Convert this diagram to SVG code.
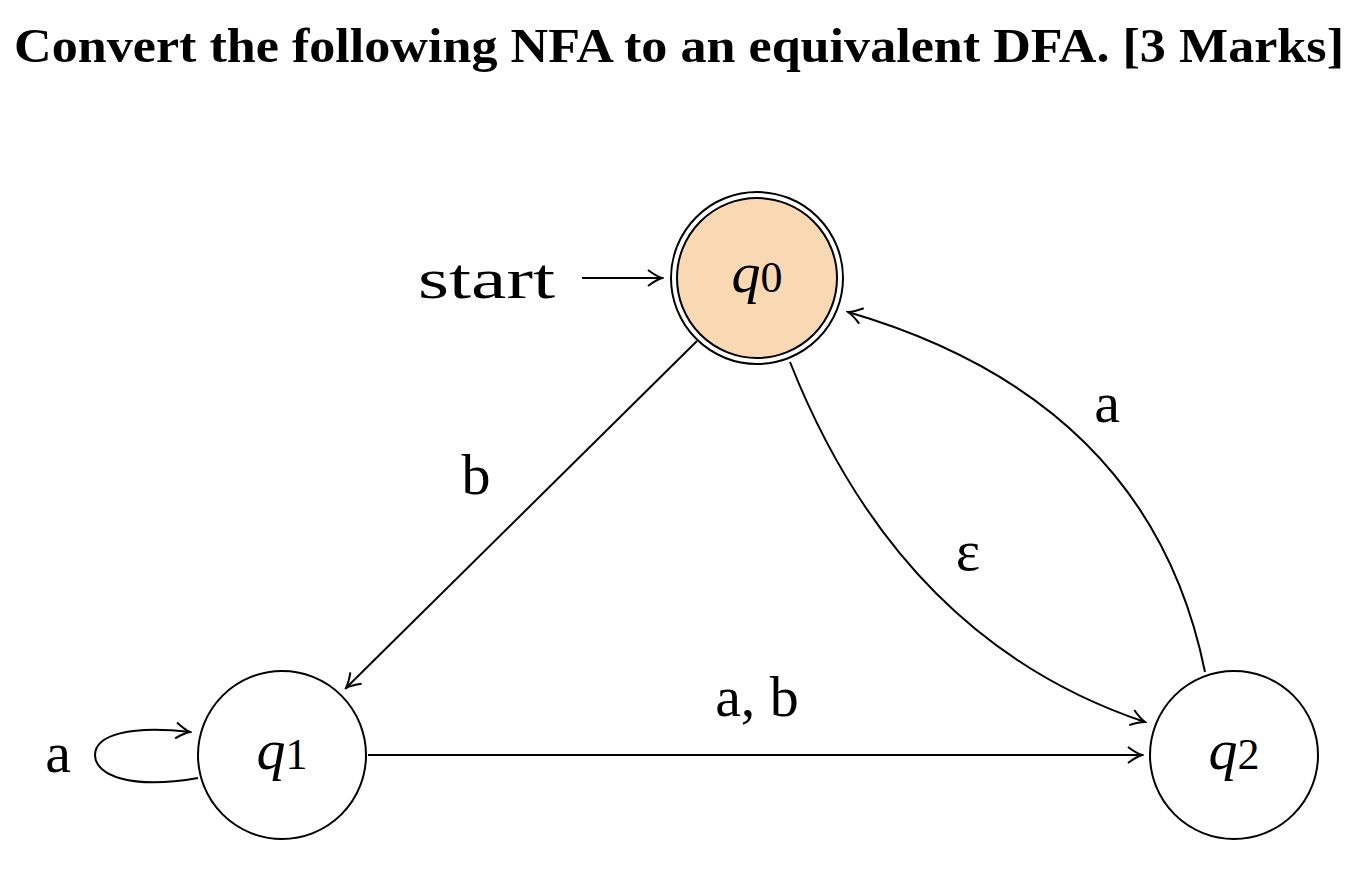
<svg xmlns="http://www.w3.org/2000/svg" width="1354" height="874" viewBox="0 0 1354 874">
<style>
.t{font-family:"Liberation Serif",serif}
.st{fill:#fff;stroke:#000;stroke-width:2}
.e{fill:none;stroke:#000;stroke-width:2}
.lb{font-family:"Liberation Serif",serif;font-size:58px}
.q{font-family:"Liberation Serif",serif;font-style:italic;font-size:58px}
</style>
<defs>
<marker id="ah" viewBox="0 0 20 20" refX="18" refY="10" markerWidth="20" markerHeight="20" markerUnits="userSpaceOnUse" orient="auto">
<path d="M4,2 Q12,8 18,10 Q12,12 4,18" fill="none" stroke="#000" stroke-width="2"/>
</marker>
</defs>
<rect width="1354" height="874" fill="#fff"/>
<text x="14" y="62" class="t" font-weight="bold" font-size="49" textLength="1330" lengthAdjust="spacingAndGlyphs">Convert the following NFA to an equivalent DFA. [3 Marks]</text>
<g id="edges">
<line x1="582" y1="278" x2="662" y2="278" class="e" marker-end="url(#ah)"/>
<line x1="697" y1="341" x2="346" y2="688" class="e" marker-end="url(#ah)"/>
<path d="M790,362 Q900,640 1145,722" class="e" marker-end="url(#ah)"/>
<path d="M1205,672 Q1150,400 848,312" class="e" marker-end="url(#ah)"/>
<line x1="368" y1="755" x2="1142" y2="755" class="e" marker-end="url(#ah)"/>
<path d="M198,778 C130,790 95,775 95,755 C95,735 130,725 190,732" class="e" marker-end="url(#ah)"/>
</g>
<g id="labels">
<text x="418" y="298" class="lb" textLength="137" lengthAdjust="spacingAndGlyphs">start</text>
<text x="476" y="494" class="lb" text-anchor="middle">b</text>
<text x="968" y="570" class="lb" text-anchor="middle">ε</text>
<text x="1107" y="422" class="lb" text-anchor="middle">a</text>
<text x="757" y="716" class="lb" text-anchor="middle">a, b</text>
<text x="58" y="772" class="lb" text-anchor="middle">a</text>
</g>
<g id="q0">
<circle cx="757" cy="278" r="86" class="st"/>
<circle cx="757" cy="278" r="80" fill="#f9d9b4" stroke="#000" stroke-width="2"/>
<text x="757" y="292" class="q" text-anchor="middle">q<tspan font-style="normal" font-size="44">0</tspan></text>
</g>
<g id="q1">
<circle cx="282" cy="755" r="84" class="st"/>
<text x="282" y="769" class="q" text-anchor="middle">q<tspan font-style="normal" font-size="44">1</tspan></text>
</g>
<g id="q2">
<circle cx="1234" cy="755" r="84" class="st"/>
<text x="1234" y="769" class="q" text-anchor="middle">q<tspan font-style="normal" font-size="44">2</tspan></text>
</g>
</svg>
